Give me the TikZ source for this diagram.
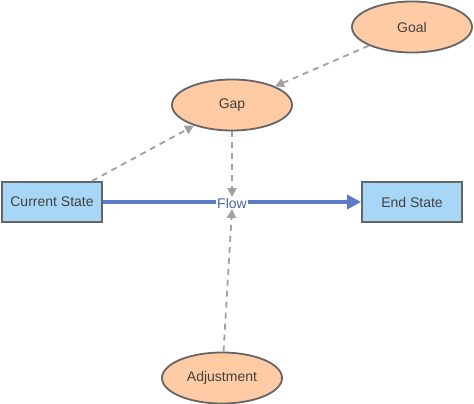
\documentclass[tikz,border=0pt]{standalone}
\usepackage{fontspec}
\setmainfont{Liberation Sans}
\usetikzlibrary{arrows.meta,shapes.geometric}
\definecolor{peach}{HTML}{FFCBA4}
\definecolor{skyfill}{HTML}{A8D6F7}
\definecolor{rim}{HTML}{656565}
\definecolor{flowblue}{HTML}{5B7CC4}
\definecolor{linkgray}{HTML}{A0A0A0}
\tikzstyle{stock}=[rectangle,draw=rim,fill=skyfill,line width=1.8pt,minimum width=100pt,minimum height=40pt,inner sep=0pt]
\tikzstyle{aux}=[ellipse,draw=rim,fill=peach,line width=1.8pt,minimum width=120pt,minimum height=51pt,inner sep=0pt]
\tikzstyle{link}=[draw=linkgray,line width=1.8pt,dash pattern=on 6pt off 5pt,-{Triangle[width=9pt,length=9pt]}]

\begin{document}
\begin{tikzpicture}[x=1pt,y=-1pt,font=\fontsize{14}{16}\selectfont,text=black!75]
\useasboundingbox (0,0) rectangle (474,404);
%\draw[help lines] (0,0) grid[step=20] (474,404);
\node[stock] (cur)  at (52,202)  {Current State};
\node[stock] (end)  at (412,202) {End State};
\node[aux]   (gap)  at (232,105) {Gap};
\node[aux]   (goal) at (412,27)  {Goal};
\node[aux]   (adj)  at (222,378) {Adjustment};
\coordinate (flowin)  at (232,197);
\coordinate (flowout) at (232,209);
\coordinate (curtop)  at (92,181);
\path (cur) edge[draw=flowblue,line width=3.5pt,-{Triangle[width=14pt,length=14pt]}] (end);
\node[inner sep=1pt,fill=white,text=flowblue!80!black] (flow) at (232,203) {Flow};
\path
(goal)   edge[link] (gap)
(curtop) edge[link] (gap)
(gap)    edge[link] (flowin)
(adj)    edge[link] (flowout);
\end{tikzpicture}
\end{document}
